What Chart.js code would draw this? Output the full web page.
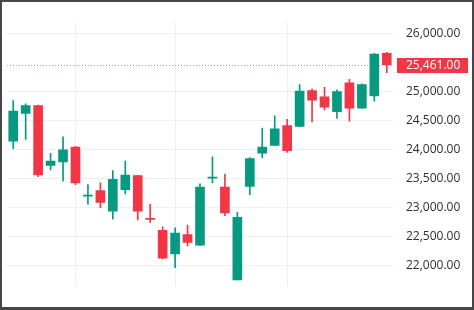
<!DOCTYPE html>
<html>
<head>
<meta charset="utf-8">
<script src="https://cdn.jsdelivr.net/npm/chart.js@4.4.1/dist/chart.umd.min.js"></script>
<style>
  html, body { margin: 0; padding: 0; background: #fff; }
  #moldura { width: 470px; height: 305px; border-style: solid; border-color: #474747; border-width: 2px 2px 3px 2px; }
  canvas { display: block; }
</style>
</head>
<body>
<div id="moldura"><canvas id="grafico" width="470" height="305"></canvas></div>
<script>
// Dados das velas
const dias = Array.from({ length: 31 }, (_, i) => 'D' + (i + 1));
const abertura   = [24140, 24620, 24755, 23720, 23780, 24035, 23190, 23285, 22930, 23300, 23545, 22800, 22600, 22195, 22525, 22345, 23500, 23345, 21745, 23360, 23930, 24065, 24410, 24395, 25010, 24905, 24650, 25145, 24710, 24920, 25655];
const maxima     = [24840, 24785, 24760, 23930, 24215, 24050, 23390, 23420, 23630, 23795, 23550, 23050, 22660, 22645, 22690, 23405, 23870, 23570, 22910, 23855, 24365, 24575, 24515, 25115, 25040, 25070, 25025, 25205, 25130, 25655, 25670];
const minima     = [24010, 24170, 23525, 23645, 23450, 23390, 23050, 22990, 22795, 23230, 22780, 22735, 22105, 21955, 22330, 22340, 23420, 22855, 21745, 23215, 23855, 24060, 23945, 24390, 24470, 24680, 24530, 24485, 24705, 24830, 25320];
const fechamento = [24660, 24755, 23555, 23795, 23990, 23420, 23200, 23080, 23480, 23555, 22930, 22790, 22120, 22555, 22390, 23345, 23512, 22900, 22825, 23840, 24035, 24350, 23975, 25005, 24845, 24725, 24995, 24710, 25115, 25640, 25461];
const marcasY = [22000, 22500, 23000, 23500, 24000, 24500, 25000, 25500, 26000];
const linhasVerticais = [5, 13, 22];

const ultimoPreco = fechamento[fechamento.length - 1];
const verde = '#089981';
const vermelho = '#f23645';
const cores = fechamento.map((c, i) => c >= abertura[i] ? verde : vermelho);
const fonte = '"Open Sans", sans-serif';

const fmt = v => v.toLocaleString('en-US', { minimumFractionDigits: 2, maximumFractionDigits: 2 });

// Linha pontilhada do último preço + etiqueta no eixo
const linhaPreco = {
  id: 'linhaPreco',
  beforeDatasetsDraw(chart) {
    const { ctx, chartArea, scales: { y } } = chart;
    const py = Math.round(y.getPixelForValue(ultimoPreco)) + 0.5;
    ctx.save();
    ctx.strokeStyle = 'rgba(242, 54, 69, 0.55)';
    ctx.lineWidth = 1;
    ctx.setLineDash([1, 2]);
    ctx.beginPath();
    ctx.moveTo(chartArea.left, py);
    ctx.lineTo(chartArea.right, py);
    ctx.stroke();
    ctx.restore();
  },
  afterDraw(chart) {
    const { ctx, chartArea, scales: { y } } = chart;
    const py = Math.round(y.getPixelForValue(ultimoPreco));
    ctx.save();
    ctx.fillStyle = vermelho;
    ctx.fillRect(chartArea.right + 4, py - 7, 71, 15);
    ctx.fillStyle = '#fff';
    ctx.font = '12px ' + fonte;
    ctx.textBaseline = 'middle';
    ctx.textAlign = 'left';
    ctx.fillText(fmt(ultimoPreco), chartArea.right + 13, py + 1);
    ctx.restore();
  }
};

new Chart(document.getElementById('grafico'), {
  type: 'bar',
  data: {
    labels: dias,
    datasets: [
      {
        label: 'corpo',
        data: dias.map((d, i) => [abertura[i], fechamento[i]]),
        backgroundColor: cores,
        barThickness: 9,
        minBarLength: 1,
        grouped: false,
        borderWidth: 0
      },
      {
        label: 'pavio',
        data: dias.map((d, i) => [minima[i], maxima[i]]),
        backgroundColor: cores,
        barThickness: 1,
        grouped: false,
        borderWidth: 0
      }
    ]
  },
  options: {
    responsive: false,
    animation: false,
    layout: { padding: { left: 5, top: 0, right: 0, bottom: 0 } },
    plugins: { legend: { display: false }, tooltip: { enabled: false } },
    scales: {
      x: {
        offset: true,
        afterFit: s => { s.height = 0; },
        ticks: { display: false },
        border: { display: false },
        grid: {
          offset: false,
          drawTicks: false,
          color: c => linhasVerticais.includes(c.index) ? '#efefef' : 'rgba(0,0,0,0)'
        }
      },
      y: {
        position: 'right',
        min: 21626,
        max: 26192,
        afterBuildTicks: s => {
          s.ticks = marcasY.filter(v => Math.abs(v - ultimoPreco) > 150).map(v => ({ value: v }));
        },
        afterFit: s => { s.width = 79; },
        border: { display: false },
        grid: { color: '#efefef', drawTicks: false },
        ticks: {
          padding: 13,
          color: '#2e2e2e',
          font: { family: fonte, size: 12 },
          callback: v => fmt(v)
        }
      }
    }
  },
  plugins: [linhaPreco]
});
</script>
</body>
</html>
